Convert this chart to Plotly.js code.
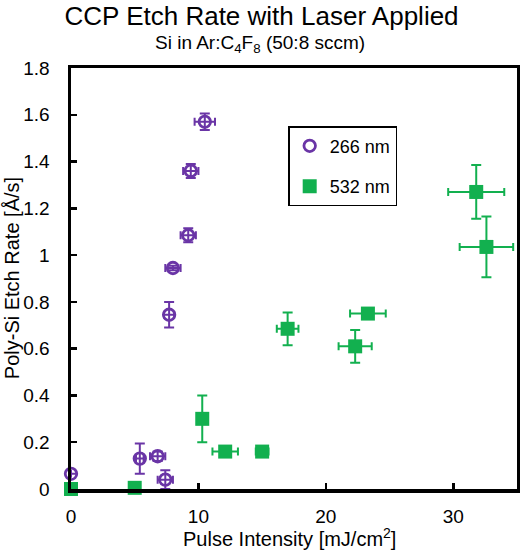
<!DOCTYPE html>
<html>
<head>
<meta charset="utf-8">
<script src="https://cdn.plot.ly/plotly-3.0.1.min.js"></script>
<style>
  html, body { margin: 0; padding: 0; background: #fff; }
  #chart { width: 520px; height: 553px; }
</style>
</head>
<body>
<div id="chart"></div>
<script>
// 266 nm laser: pulse intensity [mJ/cm²] vs poly-Si etch rate [Å/s]
const x266 = [0, 5.4, 6.8, 7.4, 7.7, 8.0, 9.2, 9.4, 10.5];
const y266 = [0.065, 0.13, 0.14, 0.04, 0.745, 0.945, 1.085, 1.36, 1.57];
const xErr266 = [0, 0.3, 0.6, 0.6, 0.4, 0.6, 0.6, 0.6, 0.8];
const yErr266 = [0, 0.065, 0.02, 0.04, 0.055, 0.01, 0.03, 0.03, 0.035];

// 532 nm laser
const x532 = [0, 5.0, 10.3, 12.1, 15.0, 17.0, 22.3, 23.3, 31.8, 32.6];
const y532 = [0, 0.005, 0.30, 0.16, 0.16, 0.685, 0.61, 0.75, 1.27, 1.035];
const xErr532 = [0, 0, 0.2, 1.0, 0.5, 0.85, 1.3, 1.4, 2.2, 2.1];
const yErr532 = [0, 0, 0.10, 0.02, 0.02, 0.07, 0.07, 0.02, 0.115, 0.13];

const xTicks = [0, 10, 20, 30];
const yTicks = [0, 0.2, 0.4, 0.6, 0.8, 1, 1.2, 1.4, 1.6, 1.8];
const yTickText = ['0', '0.2', '0.4', '0.6', '0.8', '1', '1.2', '1.4', '1.6', '1.8'];

const purple = '#6a35a6';
const green = '#12b04f';
const FONT = 'Arial, "Liberation Sans", Helvetica, sans-serif';

const traces = [
  {
    name: '266 nm', legendgroup: 'a',
    x: x266, y: y266,
    type: 'scatter', mode: 'markers', cliponaxis: false,
    marker: { symbol: 'circle-open', size: 11.5, color: purple, line: { width: 2.8, color: purple } },
    error_x: { type: 'data', array: xErr266, color: purple, thickness: 2, width: 4 },
    error_y: { type: 'data', array: yErr266, color: purple, thickness: 2, width: 5 }
  },
  {
    name: '532 nm', legendgroup: 'b',
    x: x532, y: y532,
    type: 'scatter', mode: 'markers', cliponaxis: false,
    marker: { symbol: 'square', size: 14, color: green },
    error_x: { type: 'data', array: xErr532, color: green, thickness: 2, width: 4 },
    error_y: { type: 'data', array: yErr532, color: green, thickness: 2, width: 5 }
  }
];

const layout = {
  width: 520, height: 553,
  paper_bgcolor: '#fff', plot_bgcolor: '#fff',
  margin: { l: 71, r: 3, t: 68, b: 64 },
  font: { family: FONT, color: '#000', size: 19 },
  showlegend: true,
  title: {
    text: 'CCP Etch Rate with Laser Applied',
    font: { family: FONT, size: 26, color: '#000' },
    x: 0.503, xanchor: 'center', xref: 'container',
    y: 0.971, yanchor: 'middle', yref: 'container'
  },
  annotations: [
    {
      // subtitle
      text: 'Si in Ar:C<sub>4</sub>F<sub>8</sub> (50:8 sccm)',
      xref: 'paper', yref: 'paper', x: 0.423, y: 1.057, xanchor: 'center', yanchor: 'middle',
      showarrow: false, font: { family: FONT, size: 19, color: '#000' }
    },
    {
      // x-axis title
      text: 'Pulse Intensity [mJ/cm<sup>2</sup>]',
      xref: 'paper', yref: 'paper', x: 0.49, y: -0.116, xanchor: 'center', yanchor: 'middle',
      showarrow: false, font: { family: FONT, size: 20, color: '#000' }
    },
    {
      // y-axis title
      text: 'Poly-Si Etch Rate [Å/s]', textangle: -90,
      xref: 'paper', yref: 'paper', x: -0.133, y: 0.5, xanchor: 'center', yanchor: 'middle',
      showarrow: false, font: { family: FONT, size: 20, color: '#000' }
    }
  ],
  xaxis: {
    range: [0, 35], tickvals: xTicks, ticktext: xTicks.map(String),
    showgrid: false, zeroline: false,
    showline: true, linecolor: '#000', linewidth: 3.5, mirror: true,
    ticks: 'inside', ticklen: 6, tickwidth: 2.5, tickcolor: '#000',
    tickfont: { size: 19 }, ticklabelstandoff: 8
  },
  yaxis: {
    range: [0, 1.8], tickvals: yTicks, ticktext: yTickText,
    showgrid: false, zeroline: false,
    showline: true, linecolor: '#000', linewidth: 3.5, mirror: true,
    ticks: 'inside', ticklen: 6, tickwidth: 2.5, tickcolor: '#000',
    tickfont: { size: 19 }, ticklabelstandoff: 14
  },
  legend: {
    x: 0.487, y: 0.862, xanchor: 'left', yanchor: 'top',
    bordercolor: '#000', borderwidth: 1.5, bgcolor: '#fff',
    font: { size: 18, family: FONT }, tracegroupgap: 14
  }
};

Plotly.newPlot('chart', traces, layout, { displayModeBar: false, staticPlot: true });
</script>
</body>
</html>
